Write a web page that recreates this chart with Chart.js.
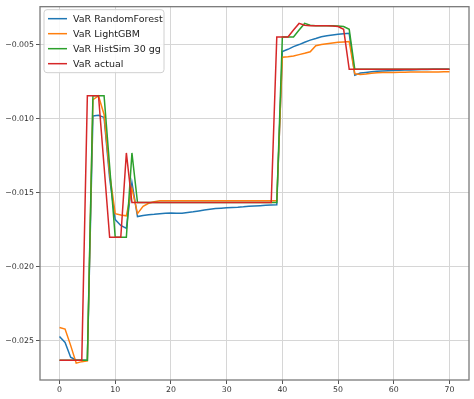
<!DOCTYPE html>
<html><head><meta charset="utf-8">
<script src="https://cdn.jsdelivr.net/npm/chart.js@4"></script>
<style>html,body{margin:0;padding:0;background:#fff}#wrap{width:474px;height:399px}</style>
</head><body><div id="wrap"><canvas id="c" width="474" height="399"></canvas></div>
<script>
const xs = [0,1,2,3,4,5,6,7,8,9,10,11,12,13,14,15,16,17,18,19,20,21,22,23,24,25,26,27,28,29,30,31,32,33,34,35,36,37,38,39,40,41,42,43,44,45,46,47,48,49,50,51,52,53,54,55,56,57,58,59,60,61,62,63,64,65,66,67,68,69,70];

const varRandomForest = [-0.0247,-0.0251,-0.0261,-0.0263,-0.0263,-0.0263,
 -0.0098,-0.00975,-0.0099,
 -0.0140,-0.0168,-0.0172,-0.0174,
 -0.0143,-0.0166,
 -0.01652,-0.01648,-0.01645,-0.01641,-0.01638,-0.01635,-0.01637,-0.01638,-0.01633,-0.01628,-0.01622,-0.01616,-0.01611,-0.01606,-0.01603,-0.01600,-0.01598,-0.01597,-0.01594,-0.01590,-0.01588,-0.01586,-0.01584,-0.01582,-0.01580,
 -0.00545,-0.00530,-0.00512,-0.00498,-0.00482,-0.00468,-0.00457,-0.00445,-0.00438,-0.00433,-0.00428,-0.00425,-0.00422,
 -0.00705,-0.00690,-0.00686,-0.00682,-0.00679,-0.00677,-0.00675,-0.00673,-0.00671,-0.00670,-0.00669,-0.00668,-0.00667,-0.00666,-0.00665,-0.00665,-0.00664,-0.00664];

const varLightGBM = [-0.0241,-0.0242,-0.0253,-0.0265,-0.0264,-0.02635,
 -0.0087,-0.00845,-0.0097,-0.0137,-0.0164,-0.0165,-0.01655,
 -0.0147,-0.0164,-0.0159,-0.0157,-0.0156,
 -0.01553,-0.01553,-0.01553,-0.01553,-0.01553,-0.01553,-0.01553,-0.01553,-0.01553,-0.01553,-0.01553,-0.01553,-0.01553,-0.01553,-0.01553,-0.01553,-0.01553,-0.01553,-0.01553,-0.01553,-0.01553,-0.01553,
 -0.00583,-0.00580,-0.00575,-0.00566,-0.00557,-0.00547,-0.00506,-0.00497,-0.00492,-0.00487,-0.00482,-0.00480,-0.00478,
 -0.00695,-0.00700,-0.00697,-0.00692,-0.00689,-0.00687,-0.00686,-0.00686,-0.00685,-0.00685,-0.00684,-0.00684,-0.00684,-0.00683,-0.00683,-0.00683,-0.00682,-0.00682];

const varHistSim30 = [-0.0263,-0.0263,-0.0263,-0.0263,-0.0263,-0.0263,
 -0.00843,-0.00843,-0.00843,
 -0.0132,
 -0.0180,-0.0180,-0.0180,
 -0.0123,
 -0.01565,-0.01565,-0.01565,-0.01565,-0.01565,-0.01565,-0.01565,-0.01565,-0.01565,-0.01565,-0.01565,-0.01565,-0.01565,-0.01565,-0.01565,-0.01565,-0.01565,-0.01565,-0.01565,-0.01565,-0.01565,-0.01565,-0.01565,-0.01565,-0.01565,-0.01565,
 -0.00447,-0.00447,-0.00447,
 -0.0040,
 -0.00355,
 -0.00368,-0.0037,-0.0037,-0.0037,-0.00371,-0.00373,-0.00376,-0.00395,
 -0.00665,-0.00665,-0.00665,-0.00665,-0.00665,-0.00665,-0.00665,-0.00665,-0.00665,-0.00665,-0.00665,-0.00665,-0.00665,-0.00665,-0.00665,-0.00665,-0.00665,-0.00665];

const varActual = [-0.0263,-0.0263,-0.0263,-0.0263,-0.0263,
 -0.00843,-0.00843,-0.00843,
 -0.0132,
 -0.0180,-0.0180,-0.0180,
 -0.0123,
 -0.01565,-0.01565,-0.01565,-0.01565,-0.01565,-0.01565,-0.01565,-0.01565,-0.01565,-0.01565,-0.01565,-0.01565,-0.01565,-0.01565,-0.01565,-0.01565,-0.01565,-0.01565,-0.01565,-0.01565,-0.01565,-0.01565,-0.01565,-0.01565,-0.01565,-0.01565,
 -0.00447,-0.00447,-0.00447,
 -0.0040,
 -0.00355,
 -0.00368,-0.0037,-0.0037,-0.0037,-0.00371,-0.00373,-0.00376,-0.00395,
 -0.00665,-0.00665,-0.00665,-0.00665,-0.00665,-0.00665,-0.00665,-0.00665,-0.00665,-0.00665,-0.00665,-0.00665,-0.00665,-0.00665,-0.00665,-0.00665,-0.00665,-0.00665,-0.00665];

const seriesNames = ['VaR RandomForest','VaR LightGBM','VaR HistSim 30 gg','VaR actual'];
const xTicks = [0,10,20,30,40,50,60,70];
const yTicks = [-0.025,-0.020,-0.015,-0.010,-0.005];

const colors = ['#1f77b4','#ff7f0e','#2ca02c','#d62728'];
const allSeries = [varRandomForest, varLightGBM, varHistSim30, varActual];

const datasets = allSeries.map((vals,i)=>({
  label: seriesNames[i],
  data: xs.map((x,j)=>({x:x, y:vals[j]})),
  borderColor: colors[i],
  backgroundColor: colors[i],
  borderWidth: 1.5,
  pointRadius: 0,
  tension: 0,
  fill: false,
  order: 3 - i
}));

const framePlugin = {
  id:'frame',
  afterDatasetsDraw(chart){
    const {ctx, chartArea:a} = chart;
    ctx.save();
    ctx.strokeStyle = '#7a7a7a';
    ctx.lineWidth = 1.3;
    ctx.strokeRect(a.left, a.top, a.right - a.left, a.bottom - a.top);
    // legend
    const bx = a.left + 4, by = a.top + 3, bw = 120, bh = 63, r = 3;
    ctx.beginPath();
    ctx.moveTo(bx + r, by);
    ctx.lineTo(bx + bw - r, by); ctx.quadraticCurveTo(bx + bw, by, bx + bw, by + r);
    ctx.lineTo(bx + bw, by + bh - r); ctx.quadraticCurveTo(bx + bw, by + bh, bx + bw - r, by + bh);
    ctx.lineTo(bx + r, by + bh); ctx.quadraticCurveTo(bx, by + bh, bx, by + bh - r);
    ctx.lineTo(bx, by + r); ctx.quadraticCurveTo(bx, by, bx + r, by);
    ctx.closePath();
    ctx.fillStyle = 'rgba(255,255,255,0.85)';
    ctx.fill();
    ctx.strokeStyle = '#d0d0d0';
    ctx.lineWidth = 1;
    ctx.stroke();
    ctx.font = '9.5px "DejaVu Sans"';
    ctx.textBaseline = 'middle';
    ctx.textAlign = 'left';
    chart.data.datasets.forEach((ds, i) => {
      const yy = by + 9 + i * 15;
      ctx.strokeStyle = ds.borderColor;
      ctx.lineWidth = 1.5;
      ctx.beginPath();
      ctx.moveTo(bx + 4, yy);
      ctx.lineTo(bx + 23, yy);
      ctx.stroke();
      ctx.fillStyle = '#222';
      ctx.fillText(ds.label, bx + 29, yy + 0.5);
    });
    ctx.restore();
  }
};

new Chart(document.getElementById('c'), {
  type: 'line',
  data: { datasets },
  options: {
    responsive: false,
    animation: false,
    devicePixelRatio: 1,
    layout: { padding: { left: 0, top: 5, right: 5, bottom: 0 } },
    plugins: { legend: { display: false }, tooltip: { enabled: false } },
    scales: {
      x: {
        type: 'linear',
        min: -3.5, max: 73.5,
        afterBuildTicks: s => { s.ticks = xTicks.map(v => ({value: v})); },
        afterFit: s => { s.height = 19; },
        grid: { color: '#d6d6d6', lineWidth: 1, drawTicks: true, tickLength: 4, tickColor: '#555' },
        border: { display: false },
        ticks: { padding: 1, color: '#333', font: { family: 'DejaVu Sans', size: 7.8 }, maxRotation: 0,
                 callback: v => String(v) }
      },
      y: {
        type: 'linear',
        min: -0.02764, max: -0.00242,
        afterBuildTicks: s => { s.ticks = yTicks.map(v => ({value: v})); },
        afterFit: s => { s.width = 40; },
        grid: { color: '#d6d6d6', lineWidth: 1, drawTicks: true, tickLength: 4, tickColor: '#555' },
        border: { display: false },
        ticks: { padding: 2, color: '#333', font: { family: 'DejaVu Sans', size: 7.8 },
                 callback: v => (v < 0 ? '\u2212' : '') + Math.abs(v).toFixed(3) }
      }
    }
  },
  plugins: [framePlugin]
});
</script>
</body></html>
